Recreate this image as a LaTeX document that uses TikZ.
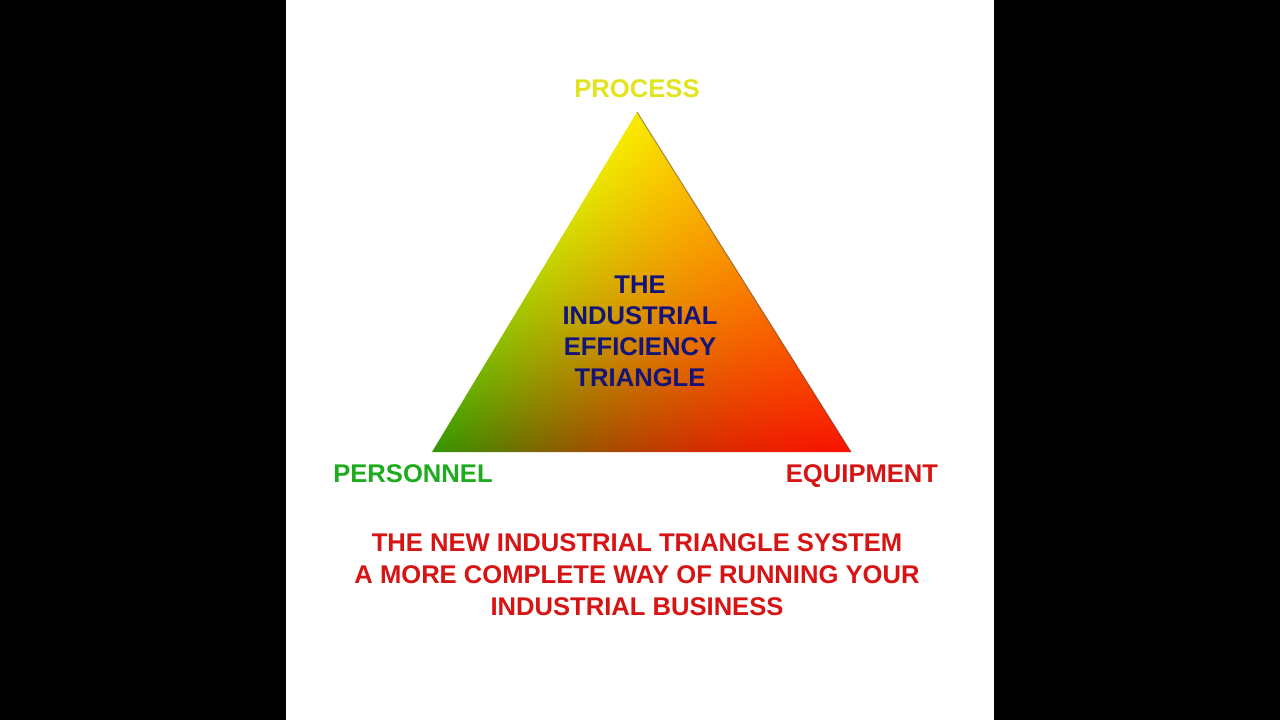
\documentclass[tikz,border=0pt]{standalone}
\usepackage{fontspec}
\setmainfont{Liberation Sans}
\usepackage{xcolor}

\definecolor{procyellow}{RGB}{225,228,30}
\definecolor{persgreen}{RGB}{30,172,30}
\definecolor{equipred}{RGB}{215,20,20}
\definecolor{titlenavy}{RGB}{20,20,120}

% yellow at the top corner, green bottom left, red bottom right
\pgfdeclarefunctionalshading{triblend}{\pgfpoint{-50bp}{-50bp}}{\pgfpoint{50bp}{50bp}}{}{
	25 add 50 div dup 0 lt {pop 0} if dup 1 gt {pop 1} if
	exch 25 add 1 index 24.45 mul sub 50 div dup 0 lt {pop 0} if
	1 2 index sub 1 index sub dup 0 lt {pop 0} if
	1.6 exp
	2 index 3 index 3 index add 0.001 add div
	0.843 mul 0.078 add 1 2 index sub mul 1 index 0.588 mul add
	exch 0.777 mul 0.973 exch sub
	exch 4 2 roll pop pop 0
}

\begin{document}
\begin{tikzpicture}[x=0.5pt, y=-0.5pt,
	label/.style = {font=\fontsize{12.8pt}{15.5pt}\selectfont\bfseries, inner sep=0pt},
	corner/.style = {label, anchor=base}]
	\useasboundingbox (0,0) rectangle (1280,720);
	\fill[black] (0,0) rectangle (1280,720);
	\fill[white] (286,0) rectangle (994,720);
	% the triangle
	\coordinate (top) at (637,112);
	\coordinate (left) at (432,452);
	\coordinate (right) at (851,452);
	\shade[shading=triblend] (top) -- (left) -- (right) -- cycle;
	\draw[black!60!brown, opacity=0.5, line width=0.5pt] (top) -- (right);
	% corner labels
	\node[corner, text=procyellow] (process) at (637,97) {PROCESS};
	\node[corner, text=persgreen] (personnel) at (413,482) {PERSONNEL};
	\node[corner, text=equipred] (equipment) at (862,482) {EQUIPMENT};
	\node[label, anchor=north, align=center, text=titlenavy] (title) at (640,275) {THE\\INDUSTRIAL\\EFFICIENCY\\TRIANGLE};
	\node[label, anchor=north, align=center, text=equipred, font=\fontsize{12.8pt}{16pt}\selectfont\bfseries] (system) at (637,533)
		{THE NEW INDUSTRIAL TRIANGLE SYSTEM\\A MORE COMPLETE WAY OF RUNNING YOUR\\INDUSTRIAL BUSINESS};
\end{tikzpicture}
\end{document}
